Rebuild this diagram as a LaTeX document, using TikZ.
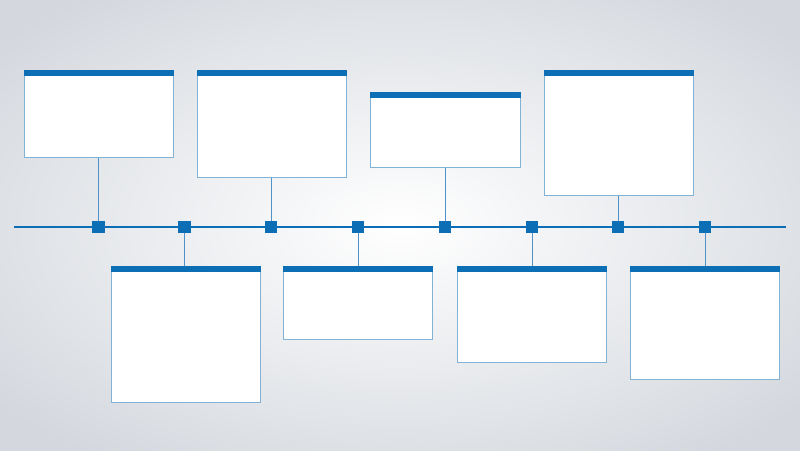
\documentclass[tikz,border=0pt]{standalone}
\usetikzlibrary{positioning}
\definecolor{barblue}{RGB}{12,110,180}
\definecolor{edgeblue}{RGB}{130,178,214}
\definecolor{linkblue}{RGB}{80,145,200}
\definecolor{bggray}{RGB}{212,216,222}
\tikzset{
  card/.style={draw=edgeblue, line width=0.8pt, fill=white, rectangle, anchor=north west, inner sep=0pt},
  marker/.style={fill=barblue, draw=none, rectangle, minimum size=12.5pt, inner sep=0pt},
  link/.style={draw=linkblue, line width=0.8pt},
  axis/.style={draw=barblue, line width=1.5pt},
}
\begin{document}
\begin{tikzpicture}[x=1pt,y=-1pt]
\useasboundingbox (0,0) rectangle (800,450);
\shade[inner color=white, outer color=bggray] (-120,-60) rectangle (920,510);
% timeline
\coordinate (L) at (14,227);
\coordinate (R) at (786,227);
\draw[axis] (L) -- (R);
% cards top
\node[card, minimum width=149pt, minimum height=87pt] (t1) at (24,70) {};
\node[card, minimum width=149pt, minimum height=107pt] (t2) at (197,70) {};
\node[card, minimum width=150pt, minimum height=75pt] (t3) at (370,92) {};
\node[card, minimum width=149pt, minimum height=125pt] (t4) at (544,70) {};
% cards bottom
\node[card, minimum width=149pt, minimum height=136pt] (b1) at (111,266) {};
\node[card, minimum width=149pt, minimum height=73pt] (b2) at (283,266) {};
\node[card, minimum width=149pt, minimum height=96pt] (b3) at (457,266) {};
\node[card, minimum width=149pt, minimum height=113pt] (b4) at (630,266) {};
% bars
\foreach \c in {t1,t2,t3,t4,b1,b2,b3,b4}{
  \fill[barblue] (\c.north west) rectangle ([yshift=-6pt]\c.north east);
}
% markers
\node[marker] (s1) at (98.5,227) {};
\node[marker] (s2) at (184.5,227) {};
\node[marker] (s3) at (271,227) {};
\node[marker] (s4) at (358,227) {};
\node[marker] (s5) at (445,227) {};
\node[marker] (s6) at (532,227) {};
\node[marker] (s7) at (618,227) {};
\node[marker] (s8) at (705,227) {};
% links
\draw[link] (t1.south -| s1) -- (s1.north);
\draw[link] (t2.south -| s3) -- (s3.north);
\draw[link] (t3.south -| s5) -- (s5.north);
\draw[link] (t4.south -| s7) -- (s7.north);
\draw[link] (s2.south) -- (b1.north -| s2);
\draw[link] (s4.south) -- (b2.north -| s4);
\draw[link] (s6.south) -- (b3.north -| s6);
\draw[link] (s8.south) -- (b4.north -| s8);
\end{tikzpicture}
\end{document}
